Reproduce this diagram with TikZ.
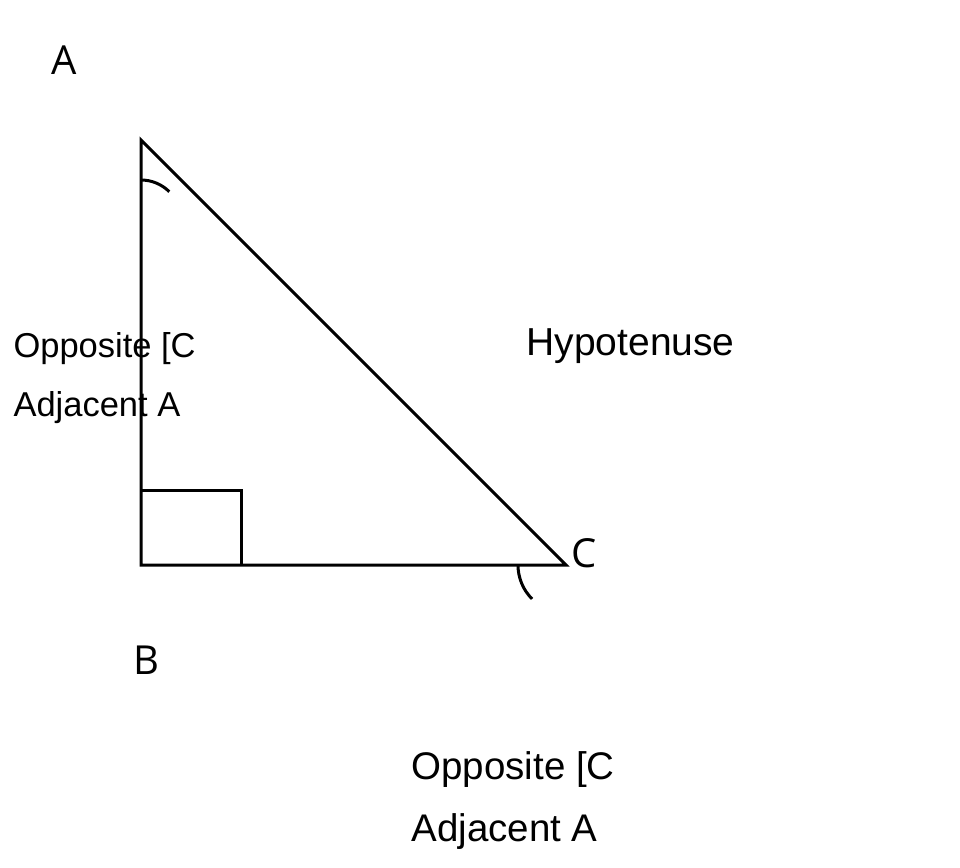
\documentclass[tikz,border=0pt]{standalone}
\usepackage{fontspec}
\setmainfont{Liberation Sans}
\newfontfamily\osans{Open Sans}
\begin{document}
\begin{tikzpicture}[x=1pt,y=-1pt,line width=3pt,
  lbl/.style={anchor=west,inner sep=0,font=\fontsize{36}{40}\selectfont},
  vtx/.style={inner sep=0,font=\osans\fontsize{40}{44}\selectfont}]
\useasboundingbox (0,0) rectangle (960,867);
\coordinate (A) at (141,140);
\coordinate (B) at (141,565);
\coordinate (C) at (566,565);
\draw[line join=miter] (A) -- (B) -- (C) -- cycle;
\draw (141,490) -- (241,490) -- (241,565);
\draw (141,180) arc[start angle=-90,end angle=-45,radius=40];
\draw (518,565) arc[start angle=180,end angle=135,radius=48];
\node[vtx] (la) at (64,60) {A};
\node[vtx] (lb) at (146,660) {B};
\node[vtx] (lc) at (584,553) {C};
\node[lbl,font=\fontsize{39}{44}\selectfont] (h) at (525,346) {Hypotenuse};
\node[lbl,font=\fontsize{34.5}{40}\selectfont] (o1) at (12,349) {Opposite [C};
\node[lbl,font=\fontsize{34.5}{40}\selectfont] (a1) at (12,408) {Adjacent A};
\node[lbl,font=\fontsize{38.5}{44}\selectfont] (o2) at (410,770) {Opposite [C};
\node[lbl,font=\fontsize{38.5}{44}\selectfont] (a2) at (410,832) {Adjacent A};
\end{tikzpicture}
\end{document}
